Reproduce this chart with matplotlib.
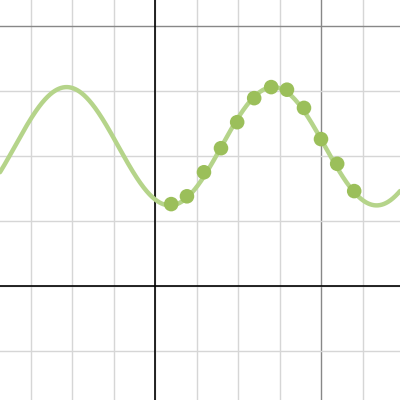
import numpy as np
import matplotlib
matplotlib.use("Agg")
import matplotlib.pyplot as plt

# Data points (dots)
pts_x = [0.39, 0.77, 1.18, 1.59, 1.98, 2.39, 2.80, 3.18, 3.59, 4.00, 4.39, 4.80]
pts_y = [1.26, 1.38, 1.75, 2.12, 2.52, 2.89, 3.06, 3.02, 2.74, 2.26, 1.88, 1.46]

# Fitted sinusoid parameters (curve)
midline = 2.15
amplitude = 0.91
period = 4.98
phase_min_x = 0.36

x_min, x_max = -155/41.5, 245/41.5
y_min, y_max = -114/65, 286/65

fig = plt.figure(figsize=(4, 4), dpi=100)
ax = fig.add_axes([0, 0, 1, 1])
ax.set_xlim(x_min, x_max)
ax.set_ylim(y_min, y_max)
ax.axis('off')

for gx in range(-3, 6):
    c = '#888888' if gx % 4 == 0 and gx != 0 else '#d6d6d6'
    ax.axvline(gx, color=c, lw=1, zorder=0)
for gy in range(-1, 5):
    c = '#888888' if gy % 4 == 0 and gy != 0 else '#d6d6d6'
    ax.axhline(gy, color=c, lw=1, zorder=0)
ax.axvline(0, color='black', lw=1.2, zorder=1)
ax.axhline(0, color='black', lw=1.2, zorder=1)

xs = np.linspace(x_min, x_max, 800)
ys = midline - amplitude * np.cos(2 * np.pi * (xs - phase_min_x) / period)
ax.plot(xs, ys, color='#b5d48a', lw=3.2, zorder=2, solid_capstyle='round')
ax.scatter(pts_x, pts_y, s=110, color='#9bbf5a', zorder=3, edgecolors='none')

fig.savefig('out.png', dpi=100)
